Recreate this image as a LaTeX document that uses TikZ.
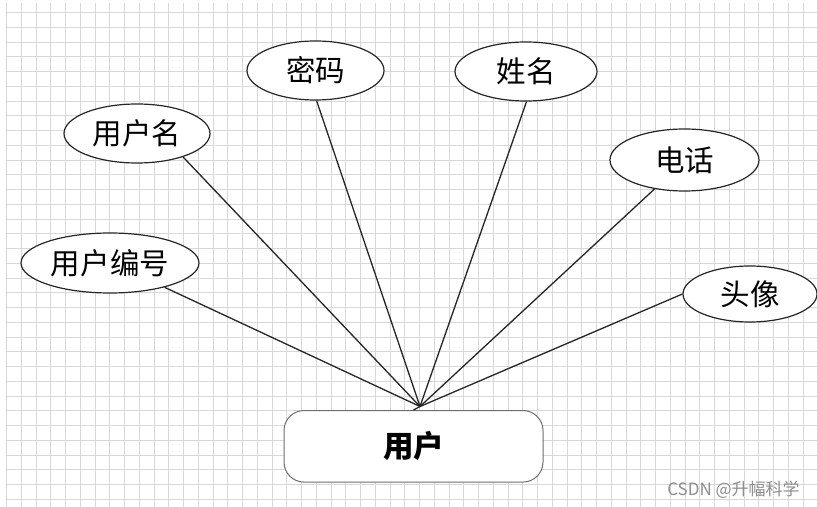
\documentclass[tikz,border=0pt]{standalone}
\usepackage{fontspec}
\setmainfont{Noto Sans CJK SC}
\usetikzlibrary{shapes.geometric}
\definecolor{gridgray}{HTML}{D8D8D8}
\definecolor{wmgray}{HTML}{8E8E8E}
\definecolor{boxgray}{HTML}{6E6E6E}
\tikzset{
  gridline/.style={draw=gridgray, line width=1bp},
  attr/.style={ellipse, draw=black!85, line width=1.2bp, fill=white, inner sep=0pt,
    font=\fontsize{29.5bp}{30bp}\selectfont},
  entity/.style={rectangle, rounded corners=20bp, draw=boxgray, line width=1bp, fill=white,
    inner sep=0pt, minimum width=259bp, minimum height=71.5bp,
    font=\fontsize{30.5bp}{31bp}\selectfont\bfseries},
  conn/.style={draw=black!85, line width=1.3bp},
  watermark/.style={font=\fontsize{17bp}{17bp}\selectfont, text=wmgray, inner sep=0pt}
}
\begin{document}
\begin{tikzpicture}[x=1bp,y=-1bp]
\useasboundingbox (0,0) rectangle (817,507);
\fill[white] (0,0) rectangle (817,507);
\foreach \i in {0,...,54} \draw[gridline] ({6.7+\i*14.75},2.7) -- ({6.7+\i*14.75},507);
\foreach \j in {0,...,33} \draw[gridline] (6.7,{12.7+\j*14.75}) -- (817,{12.7+\j*14.75});

\node[entity] (u) at (413.5,446.3) {用户};
\coordinate (hub) at (420,406.5);

\node[attr, minimum width=178bp, minimum height=60bp] (a1) at (110,263) {用户编号};
\node[attr, minimum width=146bp, minimum height=59bp] (a2) at (137,133.5) {用户名};
\node[attr, minimum width=137bp, minimum height=59bp] (a3) at (315.5,70.5) {密码};
\node[attr, minimum width=142bp, minimum height=59bp] (a4) at (526,71.5) {姓名};
\node[attr, minimum width=149bp, minimum height=62bp] (a5) at (684.5,160) {电话};
\node[attr, minimum width=134bp, minimum height=56bp] (a6) at (750,294) {头像};

\draw[conn] (a1.-24.4) -- (hub);
\draw[conn] (a2.-27.6) -- (hub);
\draw[conn] (a3.-88) -- (hub);
\draw[conn] (a4.-89) -- (hub);
\draw[conn] (a5.-136.8) -- (hub);
\draw[conn] (a6.180) -- (hub);
\draw[conn] (hub) -- (u.north);

\node[watermark] (wm) at (733.5,489.5) {CSDN @升幅科学};
\end{tikzpicture}
\end{document}
